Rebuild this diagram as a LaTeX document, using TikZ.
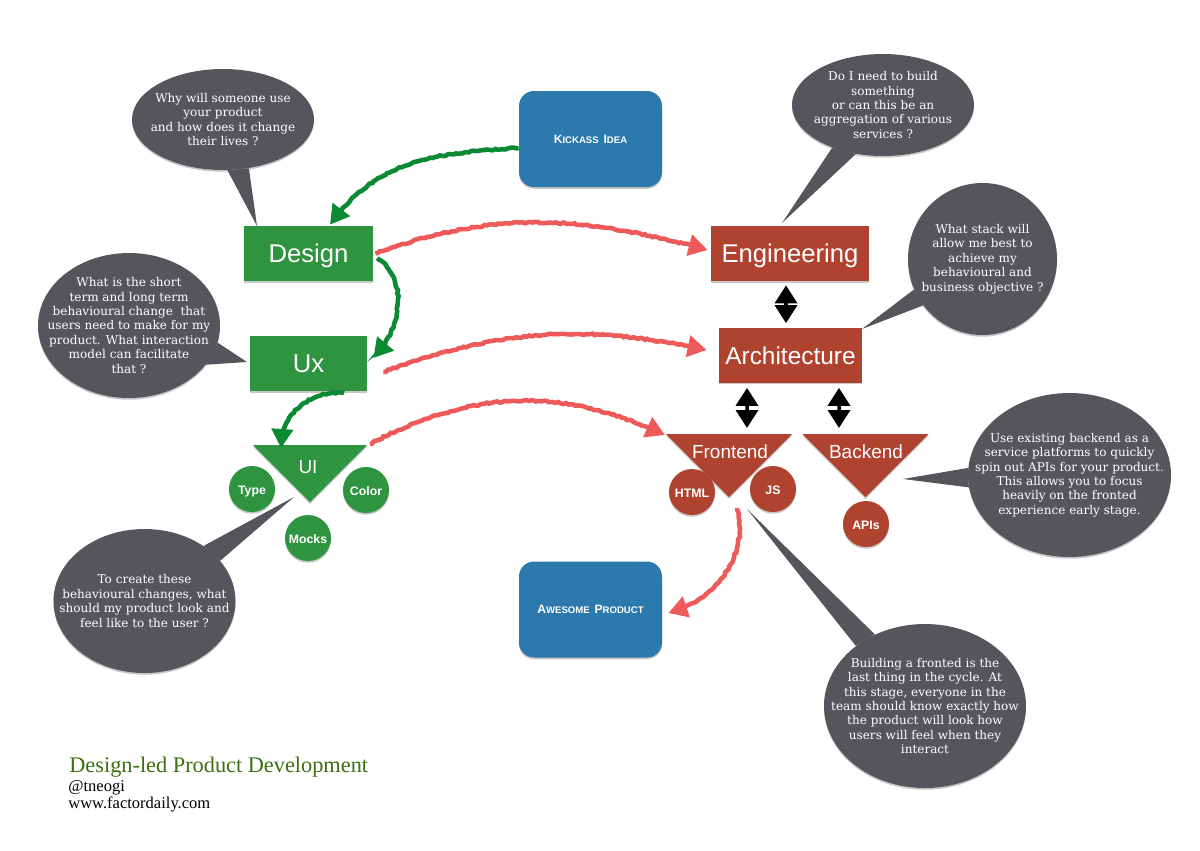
\documentclass[tikz,border=0pt]{standalone}
\usepackage{fontspec}
\setmainfont{Liberation Sans}
\newfontfamily\bubblefont{DejaVu Serif}
\newfontfamily\creditfont{Liberation Serif}
\usetikzlibrary{arrows.meta, shapes.geometric, shadows, decorations.pathmorphing}
\definecolor{boxgreen}{HTML}{2E9440}
\definecolor{boxred}{HTML}{B04330}
\definecolor{boxblue}{HTML}{2B79AD}
\definecolor{bubblegrey}{HTML}{54565B}
\definecolor{arrowgreen}{HTML}{0B8A33}
\definecolor{arrowred}{HTML}{EE5A5A}
\definecolor{titlegreen}{HTML}{3A7010}
\newcommand{\smallcap}[2]{{\fontsize{6.9}{8}\selectfont #1}{\fontsize{5.45}{8}\selectfont #2}}
\tikzset{
    softshadow/.style={drop shadow={shadow xshift=0cm, shadow yshift=-.035cm, opacity=.22, fill=black}},
    bigbox/.style={rectangle, fill=#1, softshadow, text=white, inner sep=0pt, minimum height=1.1cm, text height=10.8pt, text depth=0pt, font=\fontsize{14.6}{16}\selectfont},
    ideabox/.style={rectangle, rounded corners=.3cm, fill=boxblue, softshadow, text=white, inner sep=0pt, minimum width=2.86cm, minimum height=1.92cm, font=\bfseries},
    tri/.style={isosceles triangle, isosceles triangle stretches, shape border rotate=-90, anchor=apex, fill=#1, softshadow, inner sep=0pt, minimum width=2.52cm, minimum height=1.26cm},
    tritext/.style={text=white, inner sep=0pt, font=\fontsize{10.8}{12}\selectfont},
    dot/.style={circle, fill=#1, softshadow, text=white, inner sep=0pt, minimum size=.92cm, text height=6.2pt, text depth=0pt, font=\bfseries\fontsize{7}{8}\selectfont},
    bubble/.style={ellipse, fill=bubblegrey, softshadow, inner sep=0pt},
    bubbletext/.style={text=white, align=center, inner sep=0pt, font=\bubblefont\fontsize{6.85}{8.2}\selectfont},
    tail/.style={fill=bubblegrey},
    sketchline/.style={draw=#1, line width=2.6pt, decorate, decoration={random steps, segment length=1.5pt, amplitude=.45pt, post=lineto, post length=8pt}, -{Triangle[length=.38cm, width=.42cm]}},
    bothways/.style={draw=black, line width=2pt, {Triangle[length=.36cm, width=.44cm]}-{Triangle[length=.36cm, width=.44cm]}},
}
\begin{document}
\begin{tikzpicture}
\useasboundingbox (0,0) rectangle (24,-17);
% speech bubbles
\begin{scope}
    \node [bubble, minimum width=3.64cm, minimum height=2.02cm, label={[bubbletext]center:{Why will someone use\\your product\\and how does it change\\their lives ?}}] (whyBubble) at (4.46,-2.39) {};
    \node [bubble, minimum width=3.64cm, minimum height=2.04cm, label={[bubbletext]center:{Do I need to build\\something\\or can this be an\\aggregation of various\\services ?}}] (buildBubble) at (17.66,-2.1) {};
    \node [bubble, minimum width=2.98cm, minimum height=3.04cm, label={[bubbletext]center:{What stack will\\allow me best to\\achieve my\\behavioural and\\business objective ?}}] (stackBubble) at (19.65,-5.18) {};
    \node [bubble, minimum width=3.64cm, minimum height=2.9cm, label={[bubbletext]center:{What is the short\\term and long term\\behavioural change\ \ that\\users need to make for my\\product. What interaction\\model can facilitate\\that ?}}] (termBubble) at (2.58,-6.51) {};
    \node [bubble, minimum width=3.64cm, minimum height=2.88cm, label={[bubbletext]center:{To create these\\behavioural changes, what\\should my product look and\\feel like to the user ?}}] (lookBubble) at (2.89,-12.02) {};
    \node [bubble, minimum width=4.06cm, minimum height=3.28cm, label={[bubbletext]center:{Use existing backend as a\\service platforms to quickly\\spin out APIs for your product.\\This allows you to focus\\heavily on the fronted\\experience early stage.}}] (apiBubble) at (21.39,-9.5) {};
    \node [bubble, minimum width=4.04cm, minimum height=3.28cm, label={[bubbletext]center:{Building a fronted is the\\last thing in the cycle. At\\this stage, everyone in the\\team should know exactly how\\the product will look how\\users will feel when they\\interact}}] (lastBubble) at (18.5,-14.12) {};

    \coordinate (whyTip) at (5.14,-4.52);
    \coordinate (buildTip) at (15.64,-4.46);
    \coordinate (stackTip) at (17.24,-6.58);
    \coordinate (termTip) at (4.94,-7.24);
    \coordinate (lookTip) at (5.88,-9.94);
    \coordinate (apiTip) at (18.06,-9.58);
    \coordinate (lastTip) at (14.94,-10.18);

    \fill [tail] (whyBubble.-85) -- (whyTip) -- (whyBubble.-62) -- cycle;
    \fill [tail] (buildBubble.-140) -- (buildTip) -- (buildBubble.-119) -- cycle;
    \fill [tail] (stackBubble.-156) -- (stackTip) -- (stackBubble.-142) -- cycle;
    \fill [tail] (termBubble.-11) -- (termTip) -- (termBubble.-27) -- cycle;
    \fill [tail] (lookBubble.43) -- (lookTip) -- (lookBubble.28) -- cycle;
    \fill [tail] (apiBubble.176) -- (apiTip) -- (apiBubble.187) -- cycle;
    \fill [tail] (lastBubble.139) -- (lastTip) -- (lastBubble.125) -- cycle;
\end{scope}
% boxes
\begin{scope}
    \node [ideabox] (kickass) at (11.81,-2.78) {\smallcap{K}{ICKASS} \smallcap{I}{DEA}};
    \node [ideabox] (awesome) at (11.81,-12.19) {\smallcap{A}{WESOME} \smallcap{P}{RODUCT}};
    \node [bigbox=boxgreen, minimum width=2.58cm] (design) at (6.17,-5.07) {Design};
    \node [bigbox=boxgreen, minimum width=2.34cm] (ux) at (6.17,-7.27) {Ux};
    \node [bigbox=boxred, minimum width=3.16cm] (engineering) at (15.8,-5.07) {Engineering};
    \node [bigbox=boxred, minimum width=2.86cm, font=\fontsize{13.9}{16}\selectfont] (architecture) at (15.81,-7.1) {Architecture};

    \node [tri=boxgreen, minimum width=2.28cm, minimum height=1.14cm] (ui) at (6.2,-10.06) {};
    \node [tri=boxred] (frontend) at (14.58,-9.96) {};
    \node [tri=boxred] (backend) at (17.31,-9.96) {};
    \node [tritext] (uiText) at (6.16,-9.34) {UI};
    \node [tritext] (frontendText) at (14.6,-9.04) {Frontend};
    \node [tritext] (backendText) at (17.32,-9.04) {Backend};

    \node [dot=boxgreen] (type) at (5.04,-9.78) {Type};
    \node [dot=boxgreen] (color) at (7.32,-9.8) {Color};
    \node [dot=boxgreen] (mocks) at (6.16,-10.76) {Mocks};
    \node [dot=boxred] (html) at (13.84,-9.84) {HTML};
    \node [dot=boxred] (js) at (15.46,-9.78) {JS};
    \node [dot=boxred] (apis) at (17.32,-10.48) {APIs};
\end{scope}
% connectors
\path ([shift={(0,-.18)}]kickass.west) edge [sketchline=arrowgreen, out=183, in=55] ([shift={(.43,.02)}]design.north);
\path ([shift={(.08,-.09)}]design.east) edge [sketchline=arrowgreen, out=-35, in=45] ([shift={(.12,.11)}]ux.east);
\path ([shift={(.71,-.04)}]ux.south) edge [sketchline=arrowgreen, out=172, in=95] ([shift={(-.58,1.1)}]ui.apex);
\path ([shift={(.04,0)}]design.east) edge [sketchline=arrowred, out=20, in=165] ([shift={(-.06,.07)}]engineering.west);
\path ([shift={(.32,-.17)}]ux.east) edge [sketchline=arrowred, out=20, in=168] ([shift={(-.24,.1)}]architecture.west);
\path ([shift={(1.2,1.18)}]ui.apex) edge [sketchline=arrowred, out=28, in=155] ([shift={(-1.28,1.26)}]frontend.apex);
\path ([shift={(.16,-.2)}]frontend.apex) edge [sketchline=arrowred, out=-75, in=15] ([shift={(.12,-.07)}]awesome.east);
\path ([shift={(-.08,-.08)}]engineering.south) edge [bothways] ([shift={(-.09,.08)}]architecture.north);
\path ([shift={(-.87,-.1)}]architecture.south) edge [bothways] ([shift={(.36,1.4)}]frontend.apex);
\path ([shift={(.97,-.1)}]architecture.south) edge [bothways] ([shift={(-.53,1.4)}]backend.apex);
% credits
\node [anchor=base west, inner sep=0pt, text=titlegreen, font=\creditfont\fontsize{12.7}{15}\selectfont] (title) at (1.38,-15.44) {Design-led Product Development};
\node [anchor=base west, inner sep=0pt, font=\creditfont\fontsize{9.4}{11}\selectfont] (handle) at (1.36,-15.82) {@tneogi};
\node [anchor=base west, inner sep=0pt, font=\creditfont\fontsize{9.4}{11}\selectfont] (site) at (1.36,-16.16) {www.factordaily.com};
\end{tikzpicture}
\end{document}
